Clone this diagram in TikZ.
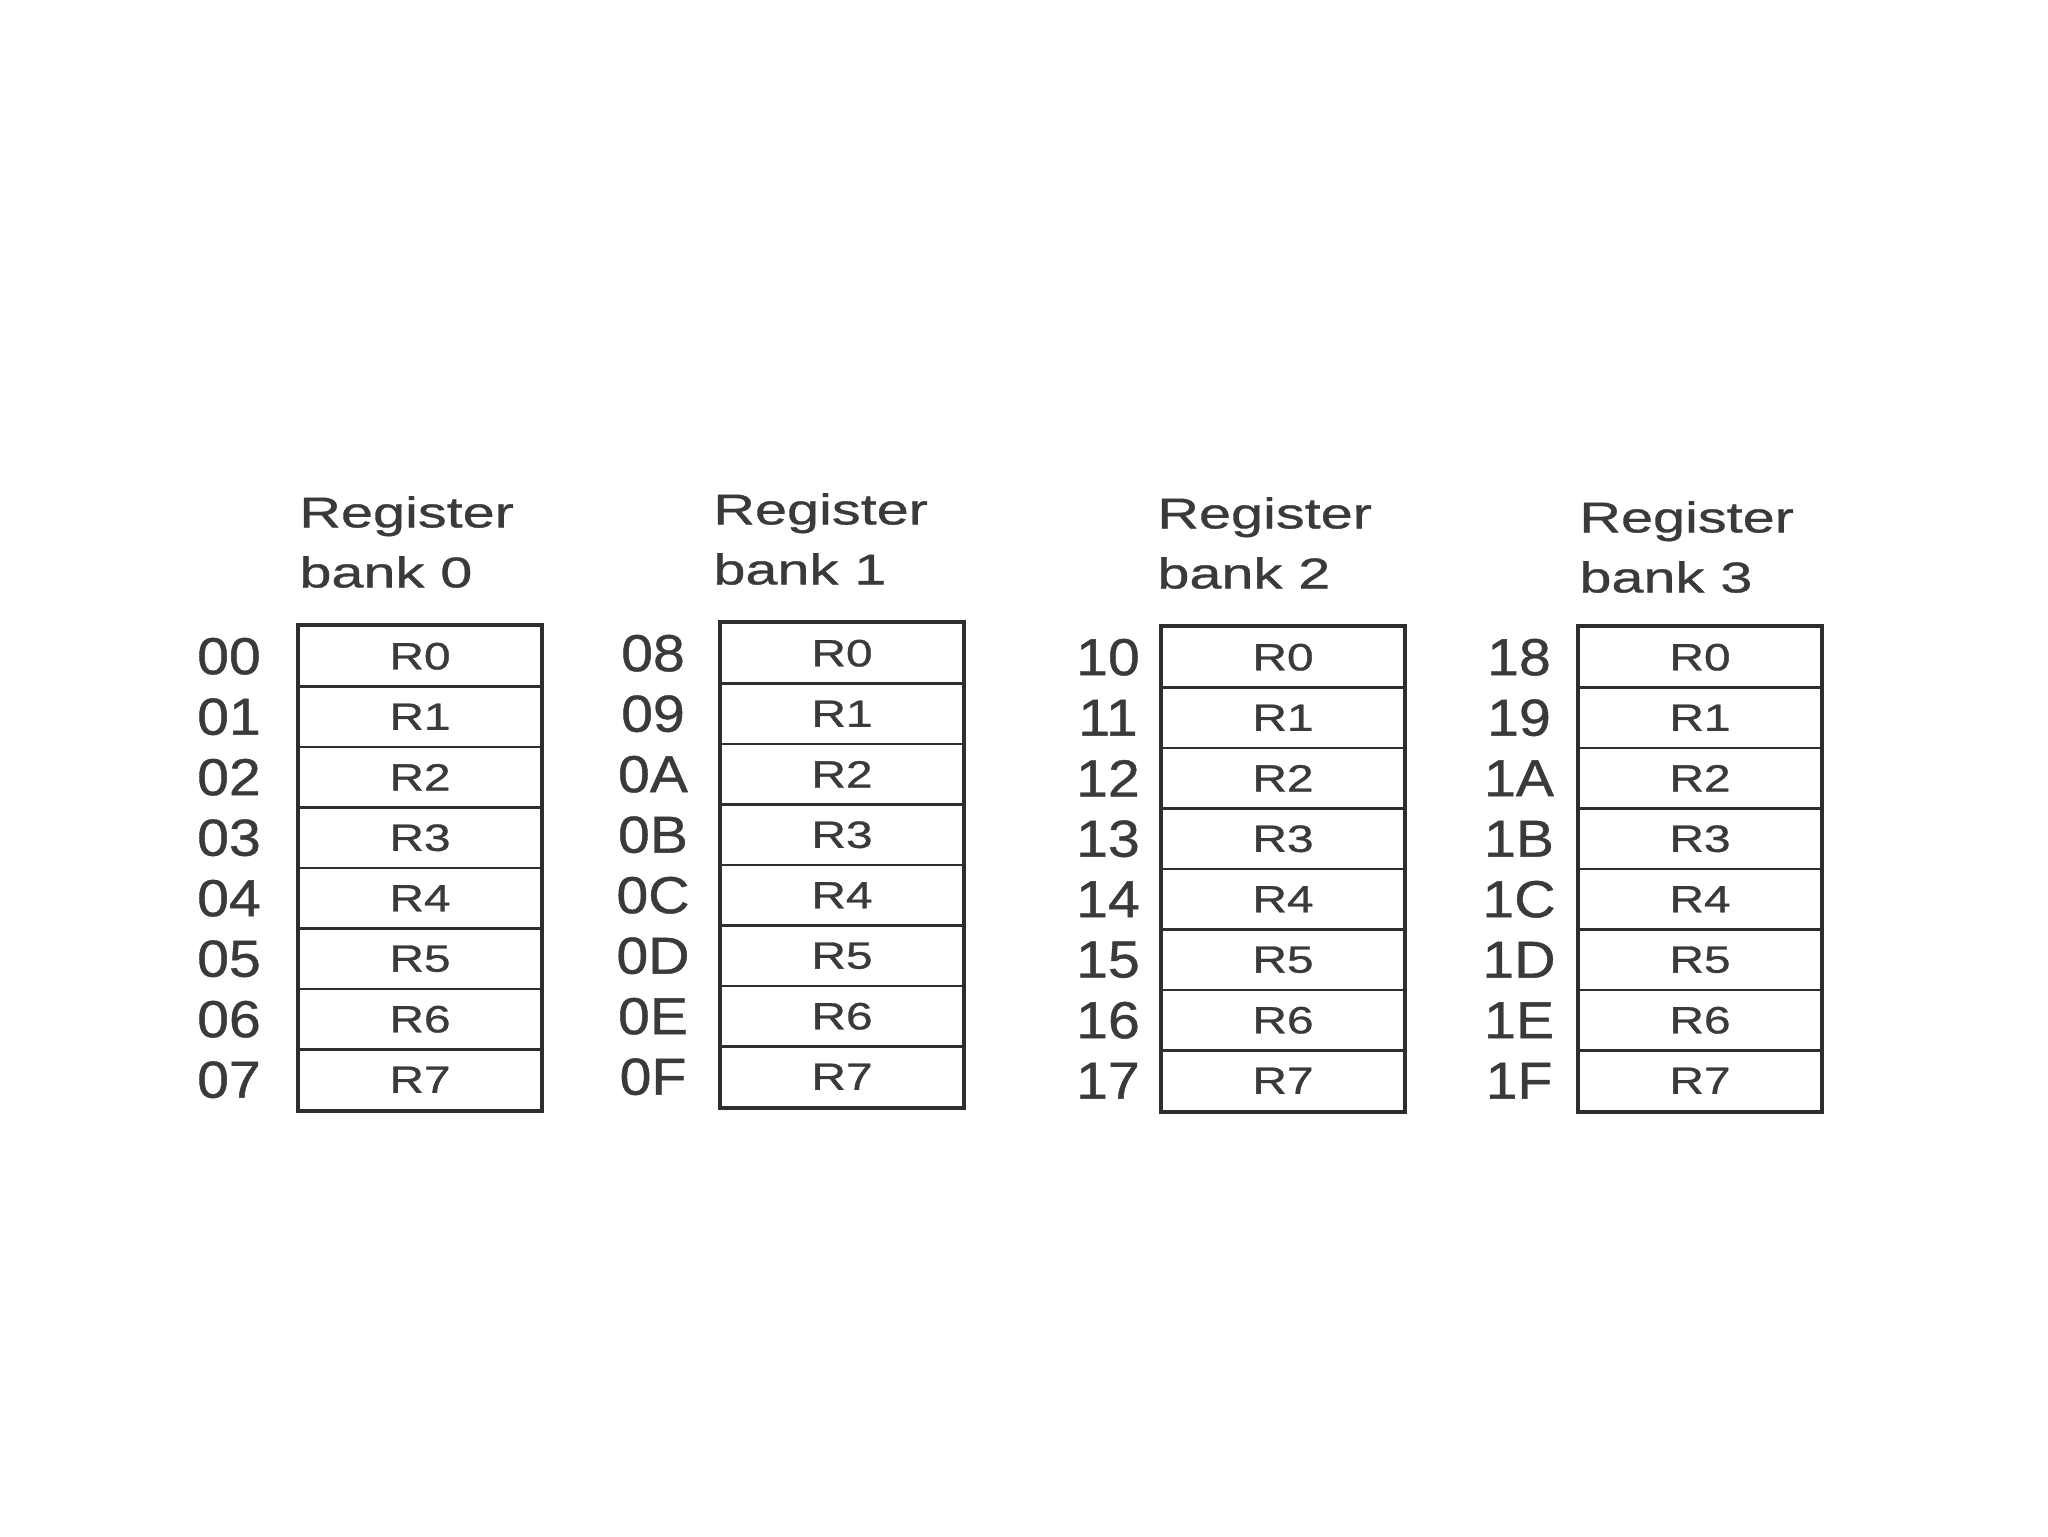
\documentclass[tikz,border=0pt]{standalone}
\usepackage{fontspec}
\setmainfont{Liberation Sans}
\newfontfamily\titlefont[FakeStretch=1.34,FakeBold=0.8]{Liberation Sans}
\newfontfamily\regfont[FakeStretch=1.26,FakeBold=0.8]{Liberation Sans}
\newfontfamily\addrfont[FakeStretch=1.1,FakeBold=0.8]{Liberation Sans}
\definecolor{ink}{HTML}{2E2E2E}
\definecolor{txt}{HTML}{3A3A3A}
\tikzset{
 cell/.style={draw=ink, line width=1.4pt, minimum width=121pt, minimum height=30.25pt, inner sep=0pt, font=\regfont\fontsize{19}{19}\selectfont, text=txt},
 addr/.style={font=\addrfont\fontsize{26}{26}\selectfont, text=txt, inner sep=0pt},
 banktitle/.style={font=\titlefont\fontsize{21.5}{30}\selectfont, text=txt, align=left, inner sep=0pt, anchor=west},
 frame/.style={draw=ink, line width=1.7pt}
}
\begin{document}
\begin{tikzpicture}[x=0.5pt,y=-0.5pt]
\useasboundingbox (0,0) rectangle (2048,1536);
\fill[white] (0,0) rectangle (2048,1536);
\foreach \b/\x/\y/\ax/\tx/\ty/\labs in {
  0/299/626/229/299/542/{00,01,02,03,04,05,06,07},
  1/721/623/653/713/539/{08,09,0A,0B,0C,0D,0E,0F},
  2/1162/627/1108/1157/543/{10,11,12,13,14,15,16,17},
  3/1579/627/1519/1579/547/{18,19,1A,1B,1C,1D,1E,1F}} {
  \node[banktitle] (t\b) at (\tx,\ty) {Register\\bank \b};
  \foreach \a [count=\r from 0] in \labs {
    \node[cell] (b\b-r\r) at ({\x+121},{\y+30.25+60.5*\r}) {R\r};
    \node[addr] (a\b-\r) at (\ax,{\y+30.25+60.5*\r}) {\a};
  }
  \draw[frame] (b\b-r0.north west) rectangle (b\b-r7.south east);
}
\end{tikzpicture}
\end{document}
